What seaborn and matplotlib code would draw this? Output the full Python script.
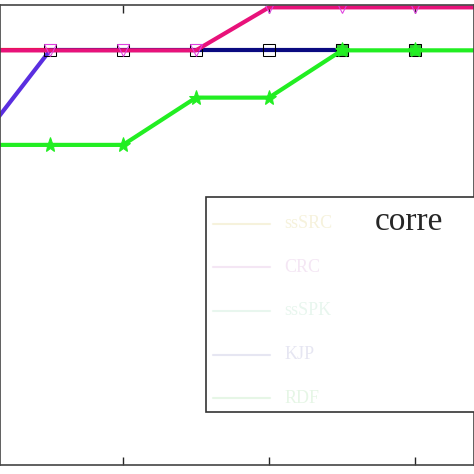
import matplotlib
matplotlib.use("Agg")
import matplotlib.pyplot as plt
import seaborn as sns
from matplotlib.patches import Rectangle

sns.set_style("white")

x_vals = [0, 1, 2, 3, 4, 5, 6, 7]
red_vals = [0.9, 0.9]
pink_vals = [0.9, 0.9, 0.9, 0.9, 1.0, 1.0, 1.0, 1.0]
blue_vals = [0.68, 0.9, 0.9, 0.9, 0.9, 0.9]
green_sq_vals = [0.9, 0.9, 0.9]
green_star_vals = [0.68, 0.68, 0.68, 0.79, 0.79, 0.9, 0.9, 0.9]
legend_labels = ["ssSRC", "CRC", "ssSPK", "KJP", "RDF"]

fig = plt.figure(figsize=(4.74, 4.74), dpi=100)
ax = fig.add_axes([0, 0.019, 1, 0.97])

sns.lineplot(x=x_vals[:2], y=red_vals, color="#e8140c", lw=3, ax=ax)
sns.lineplot(x=x_vals[:2], y=blue_vals[:2], color="#5a2ee0", lw=3, ax=ax)
sns.lineplot(x=x_vals[1:6], y=blue_vals[1:], color="#0a0a80", lw=3, marker="s",
             markersize=8, markerfacecolor="none", markeredgecolor="black", ax=ax)
sns.lineplot(x=x_vals[5:], y=green_sq_vals, color="#22cc22", lw=2, marker="s",
             markersize=8, markerfacecolor="#33cc33", markeredgecolor="black", ax=ax)
sns.lineplot(x=x_vals, y=green_star_vals, color="#22ee22", lw=3, marker="*",
             markersize=11, markeredgecolor="#22ee22", ax=ax)
sns.lineplot(x=x_vals, y=pink_vals, color="#e8127a", lw=3, ax=ax)
sns.lineplot(x=x_vals[1:], y=pink_vals[1:], color="none", lw=0, marker="v",
             markersize=8, markerfacecolor="none", markeredgecolor="#e040e0", ax=ax)

ax.set_xlim(1 - 50 / 73, 1 + 424 / 73)
ax.set_ylim(1.005 - 460 / 430, 1.005)
ax.set_xticks([2, 4, 6])
ax.set_yticks([])
ax.set_xticklabels([])
ax.tick_params(axis="x", direction="in", length=6, top=True, bottom=True, width=1)
for s in ax.spines.values():
    s.set_color("#444444")
    s.set_linewidth(1.2)

# legend box (entries are faded in the source)
ax.add_patch(Rectangle((0.435, 0.115), 0.6, 0.468, transform=ax.transAxes,
                       facecolor="white", edgecolor="#333333", lw=1.2, clip_on=True, zorder=5))
faint = ["#f6f2dc", "#f4e6f4", "#e8f6ee", "#e6e6f2", "#e6f6e6"]
for i, (lab, c) in enumerate(zip(legend_labels, faint)):
    yy = 0.525 - i * 0.095
    ax.plot([0.45, 0.57], [yy, yy], transform=ax.transAxes, color=c, lw=1.5, zorder=6)
    ax.text(0.6, yy, lab, transform=ax.transAxes, color=c, fontsize=13,
            family="Liberation Serif", va="center", zorder=6)
ax.text(0.79, 0.53, "corre", transform=ax.transAxes, fontsize=24,
        family="Liberation Serif", va="center", zorder=7)

fig.savefig("out.png", dpi=100)
